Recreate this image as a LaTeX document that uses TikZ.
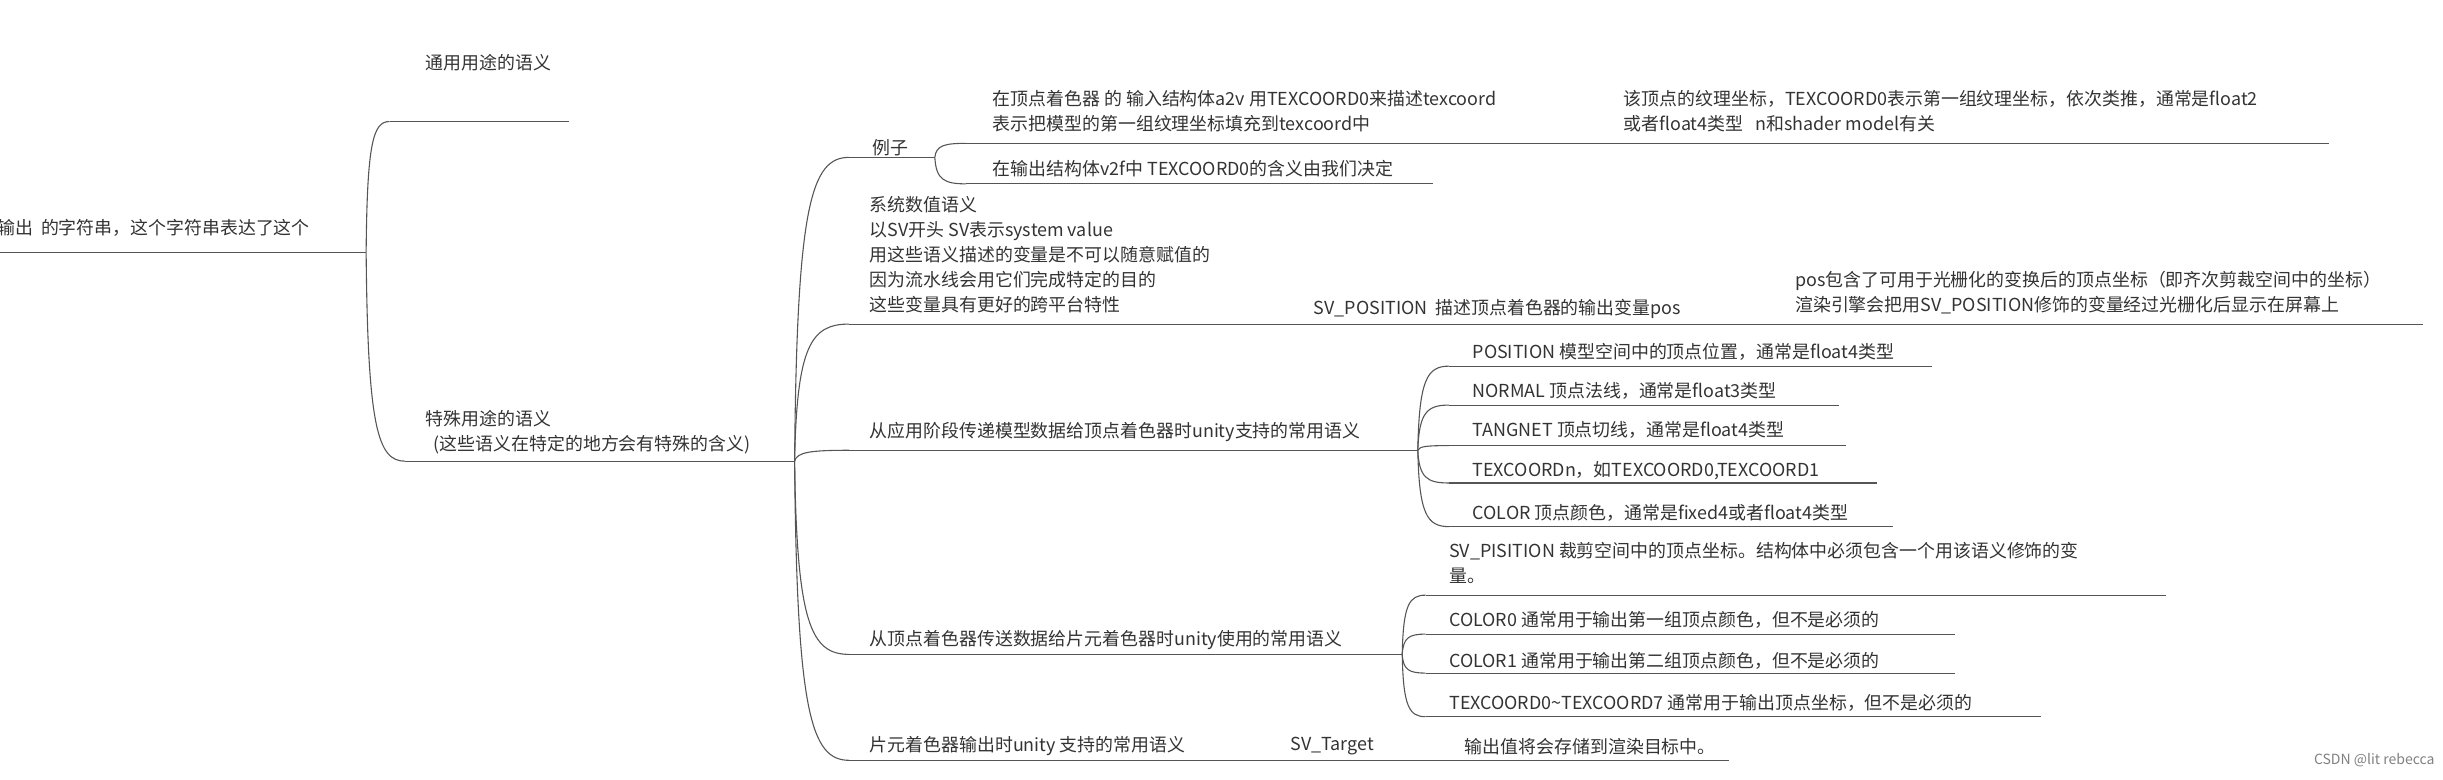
\documentclass[tikz,border=0pt]{standalone}
\usepackage{fontspec}
\newfontfamily\cjk{Noto Sans CJK SC}
\usetikzlibrary{calc}
\definecolor{txt}{HTML}{333333}
\definecolor{ln}{HTML}{555555}
\tikzset{
  lab/.style={anchor=west,inner sep=0pt,text=txt,font=\cjk\fontsize{11.5pt}{16pt}\selectfont},
  mlab/.style={lab,anchor=north west,align=left},
  uline/.style={draw=ln,line width=0.7pt},
}
\newcommand{\conn}[2]{\draw[uline] let \p1=(#1), \p2=(#2) in (\p1) .. controls ($(\x1,\y1)+0.04*(\x2-\x1,\y2-\y1)+(0,0.8*\y2-0.8*\y1)$) and ($(\x2,\y2)-(0.7*\x2-0.7*\x1,0)$) .. (\p2);}
\begin{document}
\begin{tikzpicture}[x=1pt,y=-1pt]
\useasboundingbox (0,0) rectangle (1568,500);
% root
\node[lab] (root) at (-2,146) {输出\ \ 的字符串，这个字符串表达了这个};
\coordinate (r0) at (0,162); \coordinate (r1) at (235,162);
\draw[uline] (r0) -- (r1);
% general
\node[lab] (gen) at (273,40) {通用用途的语义};
\coordinate (g0) at (250,78); \coordinate (g1) at (365,78);
\draw[uline] (g0) -- (g1); \conn{r1}{g0}
% special
\node[mlab] (spec) at (273,263) {特殊用途的语义\\\ \ (这些语义在特定的地方会有特殊的含义)};
\coordinate (s0) at (260,296); \coordinate (s1) at (510,296);
\draw[uline] (s0) -- (s1); \conn{r1}{s0}
% example
\node[lab] (ex) at (560,95) {例子};
\coordinate (e0) at (545,101); \coordinate (e1) at (600,101);
\draw[uline] (e0) -- (e1); \conn{s1}{e0}
\node[mlab] (ex1) at (637,58) {在顶点着色器 的 输入结构体a2v 用TEXCOORD0来描述texcoord\\表示把模型的第一组纹理坐标填充到texcoord中};
\node[mlab] (ex1b) at (1042,58) {该顶点的纹理坐标，TEXCOORD0表示第一组纹理坐标，依次类推，通常是float2\\或者float4类型\ \ \ n和shader model有关};
\coordinate (x10) at (620,92); \coordinate (x11) at (1495,92);
\draw[uline] (x10) -- (x11); \conn{e1}{x10}
\node[lab] (ex2) at (637,108) {在输出结构体v2f中 TEXCOORD0的含义由我们决定};
\coordinate (x20) at (620,118); \coordinate (x21) at (920,118);
\draw[uline] (x20) -- (x21); \conn{e1}{x20}
% system value
\node[mlab] (sys) at (558,126) {系统数值语义\\以SV开头 SV表示system value\\用这些语义描述的变量是不可以随意赋值的\\因为流水线会用它们完成特定的目的\\这些变量具有更好的跨平台特性};
\node[lab] (svp) at (843,198) {SV\_POSITION\ \ 描述顶点着色器的输出变量pos};
\node[mlab] (posd) at (1152,174) {pos包含了可用于光栅化的变换后的顶点坐标（即齐次剪裁空间中的坐标）\\渲染引擎会把用SV\_POSITION修饰的变量经过光栅化后显示在屏幕上};
\coordinate (y0) at (545,208); \coordinate (y1) at (1555,208);
\draw[uline] (y0) -- (y1); \conn{s1}{y0}
% app stage
\node[lab] (app) at (558,277) {从应用阶段传递模型数据给顶点着色器时unity支持的常用语义};
\coordinate (a0) at (545,289); \coordinate (a1) at (910,289);
\draw[uline] (a0) -- (a1); \conn{s1}{a0}
\foreach \nm/\ty/\ly/\le/\tx in {
  ap1/226/235/1240/{POSITION 模型空间中的顶点位置，通常是float4类型},
  ap2/251/260/1180/{NORMAL 顶点法线，通常是float3类型},
  ap3/276/286/1185/{TANGNET 顶点切线，通常是float4类型},
  ap4/302/310/1205/{TEXCOORDn，如TEXCOORD0,TEXCOORD1},
  ap5/329/338/1215/{COLOR 顶点颜色，通常是fixed4或者float4类型}}{
  \node[lab] (\nm) at (945,\ty) {\tx};
  \coordinate (\nm s) at (930,\ly); \coordinate (\nm e) at (\le,\ly);
  \draw[uline] (\nm s) -- (\nm e); \conn{a1}{\nm s}
}
% vertex to fragment
\node[lab] (vf) at (558,411) {从顶点着色器传送数据给片元着色器时unity使用的常用语义};
\coordinate (v0) at (545,420); \coordinate (v1) at (900,420);
\draw[uline] (v0) -- (v1); \conn{s1}{v0}
\node[mlab] (vf1) at (930,348) {SV\_PISITION 裁剪空间中的顶点坐标。结构体中必须包含一个用该语义修饰的变\\量。};
\coordinate (vf1s) at (915,382); \coordinate (vf1e) at (1390,382);
\draw[uline] (vf1s) -- (vf1e); \conn{v1}{vf1s}
\foreach \nm/\ty/\ly/\le/\tx in {
  vf2/398/407/1255/{COLOR0 通常用于输出第一组顶点颜色，但不是必须的},
  vf3/424/432/1255/{COLOR1 通常用于输出第二组顶点颜色，但不是必须的},
  vf4/451/460/1310/{TEXCOORD0\textasciitilde TEXCOORD7 通常用于输出顶点坐标，但不是必须的}}{
  \node[lab] (\nm) at (930,\ty) {\tx};
  \coordinate (\nm s) at (915,\ly); \coordinate (\nm e) at (\le,\ly);
  \draw[uline] (\nm s) -- (\nm e); \conn{v1}{\nm s}
}
% fragment
\node[lab] (fr) at (558,479) {片元着色器输出时unity 支持的常用语义};
\node[lab] (svt) at (828,479) {SV\_Target};
\node[lab] (frd) at (940,479) {输出值将会存储到渲染目标中。};
\coordinate (f0) at (545,488); \coordinate (f1) at (1110,488);
\draw[uline] (f0) -- (f1); \conn{s1}{f0}
\node[lab,text=gray,font=\cjk\fontsize{9pt}{11pt}\selectfont] (wm) at (1485,488) {CSDN @lit rebecca};
\end{tikzpicture}
\end{document}
